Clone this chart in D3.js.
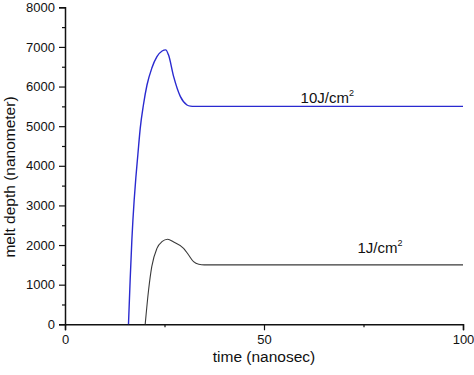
<!DOCTYPE html>
<html><head><meta charset="utf-8">
<script src="https://cdn.jsdelivr.net/npm/d3@7"></script>
<style>
body{margin:0;background:#fff;}
text{font-family:"Liberation Sans",Arial,sans-serif;fill:#111;}
</style></head>
<body><svg id="c" width="474" height="375"></svg>
<script>
const xTicks = [0, 50, 100];
const yTicks = [0, 1000, 2000, 3000, 4000, 5000, 6000, 7000, 8000];
const t10 = [15.95, 16.37, 16.8, 17.38, 17.8, 18.3, 18.9, 19.7, 20.6, 21.8, 23.1, 24.4, 25.3, 26.0, 27.3, 29.0, 30.65, 31.5, 32.5, 100];
const v10 = [0, 1118, 2127, 3137, 3700, 4273, 4946, 5534, 6039, 6460, 6754, 6897, 6925, 6800, 6250, 5745, 5535, 5505, 5500, 5500];
const t1 = [20.15, 21.0, 21.8, 23.1, 24.35, 25.8, 27.3, 29.8, 31.06, 32.3, 33.6, 35, 100];
const v1 = [0, 866, 1455, 1917, 2085, 2145, 2075, 1918, 1749, 1580, 1514, 1500, 1500];
const seriesNames = ["10J/cm", "1J/cm"];
const labelT = [59.2, 73.5];
const labelV = [5500, 1500];

const svg = d3.select("#c");
const x = d3.scaleLinear().domain([0, 100]).range([65, 463]);
const y = d3.scaleLinear().domain([0, 8000]).range([324.3, 7.3]);

// minor ticks
const gx = svg.append("g").attr("transform", "translate(0,324.3)");
gx.call(d3.axisBottom(x).tickValues([25, 75]).tickSize(3).tickFormat(""));
gx.call(g => g.select(".domain").remove());
const gx2 = svg.append("g").attr("transform", "translate(0,324.3)");
gx2.call(d3.axisBottom(x).tickValues(xTicks).tickSize(6).tickPadding(4).tickFormat(d3.format("d")));
gx2.selectAll("text").style("font-size", "13px").attr("fill", "#111");

const gy = svg.append("g").attr("transform", "translate(65,0)");
gy.call(d3.axisLeft(y).tickValues(d3.range(500, 8000, 1000)).tickSize(3).tickFormat(""));
gy.call(g => g.select(".domain").remove());
const gy2 = svg.append("g").attr("transform", "translate(65,0)");
gy2.call(d3.axisLeft(y).tickValues(yTicks).tickSize(6).tickPadding(4).tickFormat(d3.format("d")));
gy2.selectAll("text").style("font-size", "13px").attr("fill", "#111");

svg.selectAll(".domain").attr("stroke", "#111").attr("stroke-width", 1.5);
svg.selectAll(".tick line").attr("stroke", "#111").attr("stroke-width", 1.2);

const line = d3.line().x(d => x(d[0])).y(d => y(d[1])).curve(d3.curveMonotoneX);
svg.append("path").datum(t10.map((t, i) => [t, v10[i]])).attr("d", line)
  .attr("fill", "none").attr("stroke", "#2a2ad0").attr("stroke-width", 1.4);
svg.append("path").datum(t1.map((t, i) => [t, v1[i]])).attr("d", line)
  .attr("fill", "none").attr("stroke", "#3a3a3a").attr("stroke-width", 1.1);

const offs = [-3, -12];
seriesNames.forEach((n, i) => {
  const tx = svg.append("text").attr("x", x(labelT[i])).attr("y", y(labelV[i]) + offs[i])
    .style("font-size", "15px");
  tx.append("tspan").text(n);
  tx.append("tspan").text("2").style("font-size", "9px").attr("dy", -7);
});

svg.append("text").attr("x", x(50)).attr("y", 362).attr("text-anchor", "middle")
  .style("font-size", "15.5px").text("time (nanosec)");
svg.append("text").attr("transform", "translate(15,177) rotate(-90)").attr("text-anchor", "middle")
  .style("font-size", "15.5px").text("melt depth (nanometer)");
</script></body></html>
